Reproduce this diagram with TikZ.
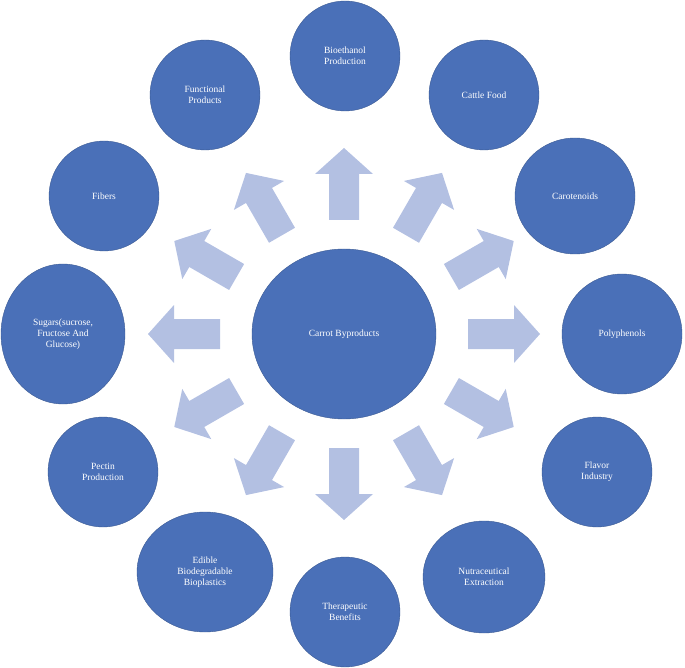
\documentclass[tikz,border=0pt]{standalone}
\usepackage{fontspec}
\setmainfont{Liberation Serif}
\usetikzlibrary{shapes.geometric,calc}
\definecolor{circ}{HTML}{4A70B8}
\definecolor{arr}{HTML}{B3C0E2}
\tikzset{
 bub/.style={ellipse,fill=circ,draw=circ!80!black,line width=0.4pt,text=white,font=\fontsize{9.5}{11}\selectfont,align=center,inner sep=0pt},
 blk/.style={fill=arr,draw=none}
}
\begin{document}
\begin{tikzpicture}[x=1pt,y=-1pt]
\useasboundingbox (0,0) rectangle (685,668);
\node[bub,minimum width=184pt,minimum height=170pt] (c) at (344,334) {Carrot Byproducts};
\node[bub,minimum width=110pt,minimum height=110pt] (n1) at (345,56) {Bioethanol\\Production};
\node[bub,minimum width=110pt,minimum height=110pt] (n2) at (484,95) {Cattle Food};
\node[bub,minimum width=120pt,minimum height=116pt] (n3) at (575,196) {Carotenoids};
\node[bub,minimum width=120pt,minimum height=120pt] (n4) at (622,334) {Polyphenols};
\node[bub,minimum width=110pt,minimum height=110pt] (n5) at (597,472) {Flavor\\Industry};
\node[bub,minimum width=122pt,minimum height=112pt] (n6) at (484,577) {Nutraceutical\\Extraction};
\node[bub,minimum width=110pt,minimum height=110pt] (n7) at (345,612) {Therapeutic\\Benefits};
\node[bub,minimum width=136pt,minimum height=120pt] (n8) at (205,572) {Edible\\Biodegradable\\Bioplastics};
\node[bub,minimum width=110pt,minimum height=110pt] (n9) at (103,472) {Pectin\\Production};
\node[bub,minimum width=124pt,minimum height=140pt] (n10) at (63,334) {Sugars(sucrose,\\Fructose And\\Glucose)};
\node[bub,minimum width=110pt,minimum height=110pt] (n11) at (104,196) {Fibers};
\node[bub,minimum width=110pt,minimum height=110pt] (n12) at (205,95) {Functional\\Products};
\foreach \i/\a in {1/90,2/60,3/30,4/0,5/-30,6/-60,7/-90,8/-120,9/-150,10/180,11/150,12/120}{
 \coordinate (a\i) at ($(c)+({160*cos(\a)},{-150*sin(\a)})$);
 \begin{scope}[shift={(a\i)},rotate=\a]
  \fill[blk] (-36,-15) -- (10,-15) -- (10,-29) -- (36,0) -- (10,29) -- (10,15) -- (-36,15) -- cycle;
 \end{scope}
}
\end{tikzpicture}
\end{document}
